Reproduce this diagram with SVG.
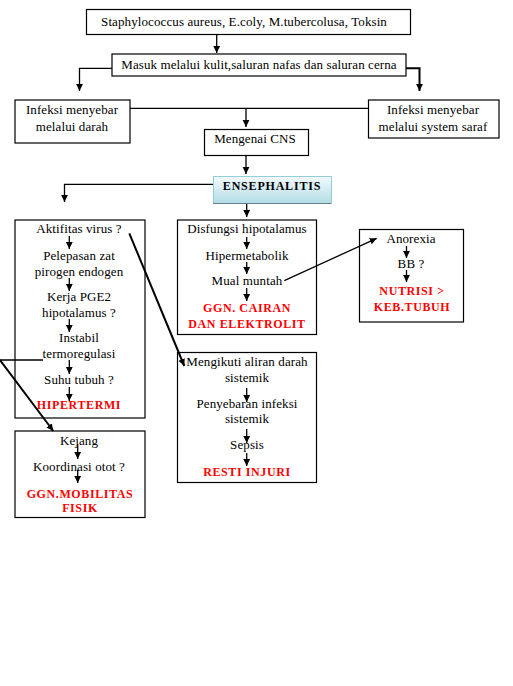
<svg xmlns="http://www.w3.org/2000/svg" width="513" height="686" viewBox="0 0 513 686">
<style>
text{font-family:"Liberation Serif","Times New Roman",serif;font-size:13px;letter-spacing:0.1px;fill:#000;text-anchor:middle}
.r{fill:#ff0000;font-weight:bold;font-size:12px;letter-spacing:0.6px}
.b{font-weight:bold;font-size:12px;letter-spacing:0.8px}
.box{fill:#fff;stroke:#000;stroke-width:1.2}
.c{fill:none;stroke:#000;stroke-width:1.3}
.t{fill:none;stroke:#000;stroke-width:2}
</style>
<defs>
<marker id="a" markerUnits="userSpaceOnUse" markerWidth="8" markerHeight="8" refX="7" refY="4" orient="auto">
<path d="M0,0.6 L7,4 L0,7.4 Z" fill="#000"/>
</marker>
<linearGradient id="g" x1="0" y1="0" x2="0" y2="1">
<stop offset="0" stop-color="#f2fafc"/>
<stop offset="1" stop-color="#b2dce6"/>
</linearGradient>
</defs>
<rect width="513" height="686" fill="#fff"/>
<g id="n1"><rect class="box" x="86.5" y="9.5" width="324" height="25"/><text x="244" y="26">Staphylococcus aureus, E.coly, M.tubercolusa, Toksin</text></g>
<g id="n2"><rect class="box" x="112" y="54" width="294" height="22" stroke-width="2"/><text x="259" y="69">Masuk melalui kulit,saluran nafas dan saluran cerna</text></g>
<g id="n3"><rect class="box" x="15" y="100" width="115" height="43"/><text x="72" y="114">Infeksi  menyebar</text><text x="72" y="131">melalui darah</text></g>
<g id="n4"><rect class="box" x="368.5" y="100" width="130.5" height="38"/><text x="433" y="114">Infeksi menyebar</text><text x="433" y="131">melalui system saraf</text></g>
<g id="n5"><rect class="box" x="204.5" y="129.5" width="104" height="26"/><text x="255" y="143">Mengenai CNS</text></g>
<g id="n6"><rect x="213.5" y="176.5" width="118" height="27" fill="url(#g)" stroke="#93cdda" stroke-width="1"/><line x1="213.5" y1="203.5" x2="331.5" y2="203.5" stroke="#333" stroke-width="1" stroke-dasharray="1,1"/><text class="b" x="272" y="190">ENSEPHALITIS</text></g>
<g id="n7">
<rect class="box" x="15" y="220" width="130" height="198"/>
<text x="79" y="233">Aktifitas virus ?</text>
<text x="79" y="260">Pelepasan zat</text>
<text x="79" y="276">pirogen endogen</text>
<text x="79" y="301">Kerja PGE2</text>
<text x="79" y="317">hipotalamus ?</text>
<text x="79" y="342">Instabil</text>
<text x="79" y="358">termoregulasi</text>
<text x="79" y="384">Suhu tubuh ?</text>
<text class="r" x="79" y="409">HIPERTERMI</text>
<path class="c" d="M69.3,236 V249" marker-end="url(#a)"/>
<path class="c" d="M69.3,278 V291" marker-end="url(#a)"/>
<path class="c" d="M69.3,319 V332" marker-end="url(#a)"/>
<path class="c" d="M69.3,360 V374" marker-end="url(#a)"/>
<path class="c" d="M69.3,387 V401" marker-end="url(#a)"/>
</g>
<g id="n8">
<rect class="box" x="177.5" y="220" width="139" height="114.5"/>
<text x="247" y="233">Disfungsi hipotalamus</text>
<text x="247" y="260">Hipermetabolik</text>
<text x="247" y="285">Mual muntah</text>
<text class="r" x="247" y="312">GGN. CAIRAN</text>
<text class="r" x="247" y="328">DAN ELEKTROLIT</text>
<path class="c" d="M246.7,237 V249" marker-end="url(#a)"/>
<path class="c" d="M246.7,262 V274" marker-end="url(#a)"/>
<path class="c" d="M246.7,288 V301" marker-end="url(#a)"/>
</g>
<g id="n9">
<rect class="box" x="359.5" y="229.5" width="104" height="92.5" stroke-width="1.8"/>
<text x="411" y="243">Anorexia</text>
<text x="411" y="268">BB ?</text>
<text class="r" x="412" y="295">NUTRISI &gt;</text>
<text class="r" x="412" y="311">KEB.TUBUH</text>
<path class="c" d="M406.5,246 V258" marker-end="url(#a)"/>
<path class="c" d="M406.5,270 V282" marker-end="url(#a)"/>
</g>
<g id="n10">
<rect class="box" x="177.5" y="352.5" width="139" height="130"/>
<text x="247" y="366">Mengikuti aliran darah</text>
<text x="247" y="382">sistemik</text>
<text x="247" y="408">Penyebaran infeksi</text>
<text x="247" y="423">sistemik</text>
<text x="247" y="449">Sepsis</text>
<text class="r" x="247" y="476">RESTI INJURI</text>
<path class="c" d="M246.7,388 V402" marker-end="url(#a)"/>
<path class="c" d="M246.7,429 V443" marker-end="url(#a)"/>
<path class="c" d="M246.7,453 V466" marker-end="url(#a)"/>
</g>
<g id="n11">
<rect class="box" x="15" y="431" width="130" height="86.5"/>
<text x="79" y="445">Kejang</text>
<text x="79" y="471">Koordinasi otot ?</text>
<text class="r" x="80" y="498">GGN.MOBILITAS</text>
<text class="r" x="80" y="512">FISIK</text>
<path class="c" d="M77.7,444 V459" marker-end="url(#a)"/>
<path class="c" d="M77.7,470 V483" marker-end="url(#a)"/>
</g>
<g id="connectors">
<path class="c" d="M216.7,34.5 V53" marker-end="url(#a)"/>
<path class="c" d="M112,68.3 H79.5 V91" marker-end="url(#a)"/>
<path class="t" d="M406,68.3 H419.5 V91" marker-end="url(#a)"/>
<path class="c" d="M130,108.3 H368"/>
<path class="c" d="M246,108.3 V127" marker-end="url(#a)"/>
<path class="c" d="M246,155.5 V174" marker-end="url(#a)"/>
<path class="c" d="M213,184.3 H64.5 V202" marker-end="url(#a)"/>
<path class="c" d="M246.7,204 V217" marker-end="url(#a)"/>
<path class="t" d="M129.3,233.3 L184.3,366" marker-end="url(#a)"/>
<path class="c" d="M284.3,280.7 L376.7,238.3" marker-end="url(#a)"/>
<path class="c" d="M0,360 H43"/>
<path class="t" d="M0,360 L53.3,431" marker-end="url(#a)"/>
</g>
</svg>
